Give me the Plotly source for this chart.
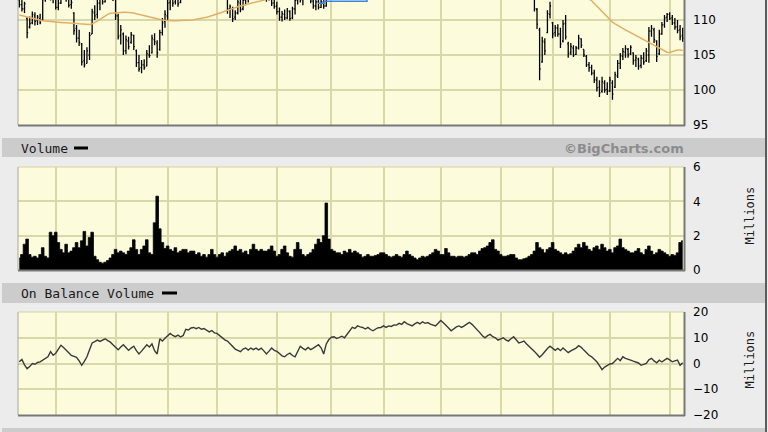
import plotly.graph_objects as go

# ---------------- data ----------------
open_ = [
    112.8,112.2,111.6,110.2,109.0,109.6,110.6,109.9,110.2,110.0,
    112.9,113.8,114.0,113.1,113.3,111.8,112.4,113.5,113.2,113.0,
    112.2,111.0,108.8,107.4,106.6,104.2,103.8,105.0,108.0,111.0,
    110.8,112.4,113.0,112.6,113.8,114.2,113.6,113.4,110.6,107.8,
    108.0,105.6,107.0,106.8,107.8,105.6,103.9,103.2,103.6,103.4,
    105.0,105.3,107.2,106.7,105.8,108.2,109.8,110.6,112.5,113.2,
    112.6,113.3,112.5,113.5,114.3,114.9,115.5,115.0,115.8,116.5,
    116.2,117.0,116.8,116.1,115.6,116.0,115.2,114.6,114.9,113.9,
    114.0,111.6,111.6,110.4,111.0,112.4,111.6,112.8,113.2,113.8,
    114.5,115.0,115.6,115.0,114.3,113.8,113.0,113.4,112.4,112.0,
    111.2,110.4,110.8,110.3,111.2,110.3,111.6,112.8,113.4,112.9,
    113.2,113.9,113.4,112.7,112.0,112.6,111.8,112.6,112.0,113.3,
    113.9,114.5,115.1,115.6,116.0,115.5,116.1,116.7,116.4,116.9,
    117.5,117.2,117.7,118.1,117.6,118.0,118.6,118.3,117.8,118.4,
    119.0,118.7,119.2,119.6,119.0,118.5,118.9,119.5,119.8,119.3,
    118.7,118.2,118.6,119.1,118.8,119.2,119.7,119.4,118.9,119.3,
    119.8,120.1,119.7,119.2,118.6,118.0,117.5,117.9,117.1,116.6,
    117.0,116.4,115.9,116.3,116.8,116.2,115.4,115.8,115.3,115.7,
    116.2,115.9,115.2,115.6,116.0,115.5,114.9,115.4,115.9,115.6,
    116.0,116.4,116.1,115.5,115.8,115.2,114.6,114.1,113.2,111.5,
    108.6,104.0,106.8,108.2,110.8,109.6,108.2,108.8,108.0,107.0,
    109.5,106.6,105.4,106.0,105.1,106.0,107.3,105.8,104.8,103.6,
    103.2,102.4,101.4,100.4,99.8,101.0,100.1,99.9,101.0,100.4,
    102.0,103.8,104.8,105.4,105.8,105.2,105.3,104.3,104.4,103.5,
    104.5,104.2,105.0,108.4,108.6,107.0,105.2,108.0,109.3,110.4,
    110.8,110.3,109.6,109.0,108.6,107.8,
]
high = [
    113.6,112.9,112.6,110.4,110.5,111.2,111.1,110.7,110.9,113.4,
    114.2,114.5,114.6,113.9,113.6,112.9,113.8,114.2,113.8,113.5,
    113.0,111.1,109.3,108.6,106.7,105.7,106.1,108.3,111.6,112.1,
    112.9,113.5,113.8,114.0,114.6,114.8,114.0,113.6,110.9,109.3,
    108.2,107.8,107.6,108.3,107.9,105.8,105.0,104.3,104.4,105.7,
    106.4,107.9,108.1,107.1,108.6,110.3,111.4,113.0,113.8,114.0,
    113.6,114.2,113.8,114.6,115.2,115.8,116.2,116.0,116.9,117.4,
    117.2,117.9,117.5,116.8,116.4,116.6,115.9,115.4,115.3,114.6,
    114.3,112.2,111.9,111.4,112.9,113.2,113.0,113.6,114.0,114.8,
    115.4,115.9,116.2,115.6,115.0,114.2,113.9,113.6,113.0,112.6,
    111.8,111.3,111.5,111.7,111.4,111.9,113.2,113.8,114.0,113.5,
    114.2,114.5,113.9,113.2,113.0,113.4,112.9,113.1,113.5,114.2,
    114.8,115.3,115.9,116.4,116.5,116.3,117.0,117.3,117.1,117.8,
    118.2,117.9,118.5,118.6,118.3,118.9,119.2,118.8,118.6,119.3,
    119.6,119.4,120.0,120.1,119.7,119.2,119.8,120.2,120.4,119.9,
    119.3,118.9,119.4,119.7,119.5,120.1,120.4,120.0,119.6,120.2,
    120.5,120.8,120.3,119.8,119.2,118.7,118.3,118.4,117.8,117.4,
    117.6,117.0,116.7,117.1,117.3,116.8,116.2,116.5,116.0,116.6,
    116.9,116.4,115.9,116.4,116.7,116.1,115.7,116.2,116.6,116.3,
    116.8,117.1,116.7,116.3,116.5,115.8,115.3,114.8,113.6,111.7,
    108.9,107.6,107.4,111.4,112.6,109.7,109.3,109.4,108.9,110.0,
    110.7,106.9,106.7,106.4,106.3,107.9,107.4,105.8,105.0,104.0,
    103.6,102.9,101.9,101.4,101.9,101.4,101.1,101.9,101.4,102.6,
    104.3,105.3,106.0,106.4,106.0,106.4,105.4,105.0,104.6,105.0,
    105.4,106.0,109.0,109.3,108.9,107.1,108.6,109.7,110.7,111.0,
    111.1,110.7,110.3,110.0,109.3,108.9,
]
low = [
    111.8,111.2,111.0,107.4,108.8,109.4,109.2,109.3,109.4,109.9,
    112.6,113.2,112.8,112.4,111.5,111.4,112.3,112.9,112.6,111.8,
    111.6,107.9,106.8,106.3,103.5,103.2,103.8,104.3,108.0,110.0,
    110.2,111.4,112.2,112.5,113.0,113.4,112.7,110.0,107.2,106.5,
    105.0,105.1,105.8,106.6,105.7,103.3,102.6,102.4,102.9,103.4,
    104.6,105.2,106.4,104.6,105.6,107.8,108.9,110.0,111.4,111.9,
    112.2,111.9,112.4,113.2,113.9,114.4,114.8,114.6,115.4,115.9,
    115.8,116.4,115.9,115.2,114.8,114.9,114.2,113.8,113.6,113.2,
    110.9,110.3,109.7,110.0,110.8,111.1,111.4,112.1,112.5,113.5,
    114.1,114.6,114.8,114.0,113.4,112.6,112.8,112.0,111.6,110.8,
    109.9,109.8,110.0,110.1,109.9,110.1,110.8,112.2,112.5,112.1,
    112.9,113.1,112.4,111.6,111.4,111.5,111.7,111.6,111.9,113.0,
    113.5,114.0,114.6,115.1,115.2,115.0,115.8,116.0,115.9,116.5,
    116.9,116.7,117.2,117.3,117.0,117.6,117.9,117.4,117.3,118.0,
    118.3,118.1,118.8,118.7,118.2,117.8,118.5,118.9,119.0,118.4,
    117.9,117.5,118.2,118.4,118.1,118.9,119.1,118.6,118.3,118.9,
    119.2,119.4,118.9,118.4,117.7,117.2,116.9,116.8,116.3,116.0,
    116.2,115.6,115.3,115.8,115.9,115.1,114.8,115.0,114.6,115.2,
    115.6,114.9,114.5,115.1,115.3,114.6,114.3,114.9,115.2,114.9,
    115.5,115.8,115.2,114.9,115.0,114.2,113.8,113.2,111.2,108.7,
    101.4,103.9,105.0,108.1,110.2,107.4,107.6,107.6,106.0,106.8,
    107.2,104.6,105.0,104.7,105.0,105.8,106.0,104.7,103.3,102.6,
    102.1,101.0,99.8,99.0,99.6,99.6,99.3,99.7,98.6,100.3,
    101.7,103.0,104.3,104.6,104.6,105.0,103.6,103.3,102.9,103.1,
    103.6,104.0,103.9,107.6,106.7,104.0,105.0,107.9,108.9,109.7,
    110.0,109.3,108.6,108.1,107.1,106.9,
]
close = [
    112.2,111.6,112.3,108.2,109.5,110.8,109.8,110.4,109.6,112.9,
    113.8,113.9,113.1,113.5,111.8,112.4,113.5,113.2,113.4,112.1,
    112.5,108.5,107.4,106.8,104.0,103.6,105.6,107.8,111.2,110.6,
    112.4,113.0,112.6,113.8,114.2,113.6,113.7,110.6,107.6,108.6,
    105.6,107.2,106.2,107.9,106.2,103.9,103.0,103.6,103.2,105.2,
    104.9,107.4,106.9,105.3,108.2,109.6,110.8,112.4,113.2,112.4,
    113.3,112.3,113.5,114.3,114.9,115.5,115.0,115.8,116.5,116.2,
    117.0,116.8,116.1,115.6,116.0,115.2,114.6,114.9,113.9,114.2,
    111.6,111.9,110.2,111.0,112.6,111.5,112.8,113.2,113.8,114.5,
    115.0,115.6,115.0,114.3,113.8,113.0,113.6,112.4,111.9,111.2,
    110.4,110.9,110.3,111.3,110.2,111.6,112.8,113.4,112.9,113.2,
    113.9,113.4,112.7,112.0,112.6,111.8,112.6,112.0,113.3,113.9,
    114.5,115.1,115.6,116.0,115.5,116.1,116.7,116.4,116.9,117.5,
    117.2,117.7,118.1,117.6,118.0,118.6,118.3,117.8,118.4,119.0,
    118.7,119.2,119.6,119.0,118.5,118.9,119.5,119.8,119.3,118.7,
    118.2,118.6,119.1,118.8,119.2,119.7,119.4,118.9,119.3,119.8,
    120.1,119.7,119.2,118.6,118.0,117.5,117.9,117.1,116.6,117.0,
    116.4,115.9,116.3,116.8,116.2,115.4,115.8,115.3,115.7,116.2,
    115.9,115.2,115.6,116.0,115.5,114.9,115.4,115.9,115.6,116.0,
    116.4,116.1,115.5,115.8,115.2,114.6,114.1,113.6,111.6,109.4,
    103.0,107.0,105.6,110.9,112.0,108.0,108.9,108.0,106.6,109.4,
    107.6,105.2,106.2,105.0,106.0,107.4,106.4,105.0,103.6,103.2,
    102.4,101.5,100.3,99.6,101.2,100.0,99.8,101.4,99.4,102.2,
    103.8,104.9,105.5,105.9,105.0,106.1,104.2,104.6,103.4,104.6,
    104.0,105.6,108.4,108.8,107.2,104.8,108.0,109.3,110.3,110.8,
    110.2,109.6,109.0,108.5,107.6,107.4,
]
moving_avg = [
    110.7,110.6,110.5,110.4,110.3,110.2,110.1,110.0,109.95,109.9,
    109.85,109.8,109.75,109.7,109.65,109.6,109.6,109.6,109.6,109.6,
    109.6,109.55,109.5,109.45,109.4,109.35,109.3,109.35,109.45,109.6,
    109.85,110.1,110.35,110.6,110.8,110.95,111.0,111.05,111.1,111.1,
    111.1,111.1,111.1,111.05,111.0,110.9,110.8,110.7,110.6,110.5,
    110.4,110.3,110.2,110.1,110.05,110.0,109.95,109.9,109.9,109.9,
    109.9,109.9,109.9,109.95,109.95,110.0,110.0,110.05,110.1,110.15,
    110.2,110.3,110.4,110.5,110.6,110.7,110.8,110.95,111.1,111.25,
    111.4,111.55,111.7,111.8,111.9,112.0,112.1,112.2,112.3,112.4,
    112.5,112.6,112.7,112.8,112.85,112.9,113.0,113.1,113.2,113.3,
    113.4,113.5,113.6,113.7,113.8,113.9,114.0,114.1,114.2,114.3,
    114.4,114.5,114.6,114.7,114.8,114.9,115.0,115.1,115.2,115.3,
    115.4,115.5,115.6,115.7,115.8,115.9,116.0,116.1,116.2,116.3,
    116.4,116.5,116.6,116.7,116.8,116.9,117.0,117.1,117.2,117.3,
    117.4,117.5,117.6,117.7,117.8,117.9,118.0,118.05,118.1,118.15,
    118.2,118.25,118.3,118.35,118.4,118.45,118.5,118.5,118.5,118.5,
    118.5,118.5,118.5,118.45,118.4,118.35,118.3,118.25,118.2,118.15,
    118.1,118.05,118.0,117.95,117.9,117.85,117.8,117.75,117.7,117.6,
    117.5,117.4,117.3,117.2,117.1,117.0,116.9,116.8,116.7,116.6,
    116.5,116.4,116.3,116.2,116.1,116.0,115.9,115.8,115.7,115.6,
    115.5,115.4,115.3,115.2,115.05,114.9,114.75,114.6,114.45,114.3,
    114.15,114.0,113.85,113.7,113.55,113.4,113.3,113.2,113.1,113.0,
    112.75,112.4,112.0,111.6,111.2,110.8,110.4,110.0,109.7,109.45,
    109.2,109.0,108.8,108.6,108.4,108.2,107.95,107.75,107.55,107.35,
    107.15,106.95,106.75,106.6,106.4,106.15,105.95,105.75,105.55,105.4,
    105.35,105.5,105.6,105.7,105.7,105.65,
]
volume_m = [
    0.7,0.9,1.5,1.8,0.9,0.75,0.8,0.7,0.9,1.3,
    0.8,0.7,2.2,2.0,2.2,1.6,1.2,1.0,1.5,1.0,
    1.1,1.3,1.6,1.3,1.7,2.25,1.4,1.9,2.2,0.8,
    0.6,0.45,0.4,0.45,0.55,0.7,0.9,1.2,1.0,1.1,
    1.0,0.9,1.1,1.3,1.76,1.2,0.9,1.2,1.4,1.76,
    1.0,0.9,2.75,4.3,2.4,1.6,1.25,1.4,1.2,1.1,
    1.3,1.0,1.1,1.2,1.2,1.0,1.1,1.1,0.9,1.0,
    0.8,0.9,0.75,0.9,1.2,0.9,0.75,0.9,1.0,0.8,
    1.0,1.1,1.2,1.4,1.1,1.2,1.0,1.1,0.9,1.2,
    1.5,1.2,1.1,1.2,1.1,1.1,1.2,1.4,1.1,0.8,
    0.9,1.2,1.4,1.0,0.8,0.75,1.2,1.6,1.2,0.9,
    0.8,0.9,1.0,1.2,1.5,1.8,1.6,2.0,3.9,1.8,
    1.2,1.1,1.0,1.0,0.9,1.1,1.0,1.2,1.0,1.1,
    1.0,0.9,0.75,0.8,0.9,0.8,0.8,0.85,0.9,1.0,
    1.0,0.9,0.8,0.75,0.8,0.9,0.8,0.75,0.9,1.1,
    0.9,0.8,0.7,0.6,0.7,0.8,0.75,0.8,0.9,1.0,
    1.2,1.1,0.9,0.9,1.25,1.0,0.8,0.8,0.75,0.8,
    0.8,0.75,0.8,0.9,1.0,1.0,0.9,1.1,1.25,1.3,
    1.4,1.6,1.76,1.2,1.1,0.9,0.8,0.8,0.85,0.9,
    0.9,0.7,0.6,0.6,0.65,0.7,0.8,0.9,1.1,1.6,
    1.3,1.2,1.0,1.2,1.3,1.6,1.2,1.1,1.0,0.9,
    1.0,0.9,0.95,1.1,1.3,1.5,1.3,1.6,1.4,1.2,
    1.1,1.3,1.4,1.2,1.5,1.3,1.1,1.2,1.0,1.3,
    1.4,1.8,1.3,1.2,1.1,1.0,1.0,1.1,1.25,1.0,
    0.9,1.2,1.4,1.1,0.9,1.0,1.2,1.1,1.0,0.9,
    0.8,0.9,0.85,1.0,1.6,1.7,
]
obv_m = [
    0.65,1.6,-0.5,-2.0,-1.2,0.0,-0.3,0.4,0.65,1.3,
    1.8,2.6,4.6,3.2,4.0,5.8,7.1,6.2,5.3,4.2,
    3.1,2.6,2.4,1.0,-0.7,0.8,2.6,5.3,8.0,8.5,
    9.1,8.6,9.2,9.6,8.9,8.3,7.3,6.2,5.3,6.4,
    7.3,6.2,5.1,6.0,6.7,5.0,3.7,4.8,5.9,7.3,
    6.4,7.6,5.0,3.7,9.6,8.7,9.8,10.8,11.7,10.9,
    10.4,11.0,10.3,10.9,13.3,13.0,13.8,14.0,13.5,14.0,
    13.3,13.6,12.9,12.3,12.8,11.9,11.7,10.9,9.8,9.2,
    8.7,7.6,6.7,5.6,5.1,4.6,5.6,6.0,5.2,6.0,
    5.4,6.0,5.3,6.0,4.9,3.7,4.8,6.0,5.1,4.7,
    3.9,3.0,2.6,3.5,4.0,3.1,2.6,4.8,6.7,5.9,
    5.3,6.2,5.4,6.0,6.8,7.3,6.1,3.7,7.6,9.3,
    10.2,10.4,9.7,10.0,10.6,10.0,11.3,12.6,14.0,13.6,
    14.6,14.2,14.0,13.4,14.0,13.2,12.7,13.4,13.9,14.0,
    14.6,14.0,14.6,14.4,15.0,14.9,15.6,15.2,16.2,15.5,
    14.9,14.6,15.4,16.0,15.4,16.2,15.6,15.9,15.3,14.8,
    14.6,15.6,16.7,15.8,14.6,13.8,12.7,13.5,14.2,14.6,
    14.0,14.6,15.3,16.0,15.2,14.2,13.3,12.0,10.8,10.0,
    10.8,11.3,10.4,10.0,9.1,9.6,10.0,9.2,8.7,9.6,
    10.4,9.2,8.0,8.3,8.7,7.6,6.7,5.9,4.7,3.6,
    2.4,3.4,4.7,5.8,6.7,6.0,5.1,5.9,5.0,6.0,
    5.2,4.2,4.9,5.3,6.0,6.9,6.3,5.2,4.0,3.2,
    2.6,1.6,0.65,-0.8,-2.4,-1.4,-0.7,-0.2,0.0,1.2,
    2.0,1.1,2.6,2.0,1.5,1.3,0.9,0.65,0.2,-0.7,
    -0.2,0.0,1.4,2.0,1.0,0.3,1.3,0.6,1.3,2.0,
    1.4,0.65,1.0,1.3,-0.7,0.3,
]
# trading-day index of the first session of each month (vertical grid)
month_starts = [14, 37, 57, 76, 99, 120, 140, 162, 185, 205, 227, 250]
month_labels = ["Dec", "Jan", "Feb", "Mar", "Apr", "May", "Jun",
                "Jul", "Aug", "Sep", "Oct", "Nov"]
price_ticks = [95, 100, 105, 110]
volume_ticks = [0, 2, 4, 6]
obv_ticks = [-20, -10, 0, 10, 20]

n = len(close)
for arr in (open_, high, low, moving_avg, volume_m, obv_m):
    assert len(arr) == n, len(arr)
days = list(range(n))

# ---------------- layout helpers ----------------
W, H = 768, 432
def fx(px):
    return px / W
def fy(py):
    return 1 - py / H

X0, X1 = 18, 684
PRICE_BOT = 125
VOL_TOP, VOL_BOT = 167, 270
OBV_TOP, OBV_BOT = 312, 415

GRID = "#d8d8a8"
PLOT_BG = "#fcfcdc"
PAGE_BG = "#ececec"
HEADER = "#cccccc"
TICKFONT = dict(family="DejaVu Sans", size=12, color="#000000")

fig = go.Figure()

fig.add_trace(go.Scatter(
    x=days, y=moving_avg, mode="lines",
    line=dict(color="#e2b064", width=1.5),
    xaxis="x", yaxis="y", hoverinfo="skip"))
fig.add_trace(go.Ohlc(
    x=days, open=open_, high=high, low=low, close=close,
    increasing=dict(line=dict(color="#000000", width=1.3)),
    decreasing=dict(line=dict(color="#000000", width=1.3)),
    tickwidth=0.4, xaxis="x", yaxis="y", hoverinfo="skip"))
fig.add_trace(go.Scatter(
    x=days, y=volume_m, mode="lines", line_shape="hvh",
    line=dict(color="#000000", width=0.8),
    fill="tozeroy", fillcolor="#000000",
    xaxis="x2", yaxis="y2", hoverinfo="skip"))
fig.add_trace(go.Scatter(
    x=days, y=obv_m, mode="lines",
    line=dict(color="#3a3a3a", width=1.4),
    xaxis="x3", yaxis="y3", hoverinfo="skip"))

xcommon = dict(
    domain=[fx(X0), fx(X1)], range=[-0.5, n - 0.5],
    tickmode="array", tickvals=month_starts, ticktext=month_labels,
    showticklabels=False, ticks="", showgrid=True, gridcolor=GRID,
    gridwidth=1.5, zeroline=False, showline=False, fixedrange=True,
    automargin=False)
ycommon = dict(
    side="right", showgrid=True, gridcolor=GRID, gridwidth=1.5,
    zeroline=False, showline=False, ticks="", tickfont=TICKFONT,
    ticklabelstandoff=8, fixedrange=True, automargin=False)

fig.update_layout(
    width=W, height=H, autosize=False,
    margin=dict(l=0, r=0, t=0, b=0, pad=0, autoexpand=False),
    paper_bgcolor=PAGE_BG, plot_bgcolor=PLOT_BG,
    showlegend=False, hovermode=False,
    xaxis=dict(**xcommon, anchor="y", rangeslider=dict(visible=False)),
    xaxis2=dict(**xcommon, anchor="y2"),
    xaxis3=dict(**xcommon, anchor="y3"),
    yaxis=dict(**ycommon, anchor="x", domain=[fy(PRICE_BOT), 1.0],
               range=[95, 95 + PRICE_BOT / 7.0],
               tickmode="array", tickvals=price_ticks),
    yaxis2=dict(**ycommon, anchor="x2", domain=[fy(VOL_BOT), fy(VOL_TOP)],
                range=[0, 6], tickmode="array", tickvals=volume_ticks),
    yaxis3=dict(**ycommon, anchor="x3", domain=[fy(OBV_BOT), fy(OBV_TOP)],
                range=[-20, 20], tickmode="array", tickvals=obv_ticks),
)

shapes = []
# header bands
for top, bot in ((138, 157), (283, 303), (428, 433)):
    shapes.append(dict(type="rect", xref="paper", yref="paper",
                       x0=fx(2), x1=fx(765), y0=fy(bot), y1=fy(top),
                       fillcolor=HEADER, line=dict(width=0), layer="below"))
# right page edge
shapes.append(dict(type="line", xref="paper", yref="paper",
                   x0=fx(766), x1=fx(766), y0=0, y1=1,
                   line=dict(color="#5c5c5c", width=2)))
# panel borders
for top, bot in ((-5, PRICE_BOT), (VOL_TOP, VOL_BOT), (OBV_TOP, OBV_BOT)):
    shapes.append(dict(type="line", xref="paper", yref="paper",
                       x0=fx(X0), x1=fx(X1), y0=fy(top), y1=fy(top),
                       line=dict(color="#d4d4a4", width=1)))
    shapes.append(dict(type="line", xref="paper", yref="paper",
                       x0=fx(X0), x1=fx(X0), y0=fy(bot), y1=fy(top),
                       line=dict(color="#a8a8a0", width=1)))
    shapes.append(dict(type="line", xref="paper", yref="paper",
                       x0=fx(X0), x1=fx(X1 + 1), y0=fy(bot + 0.5), y1=fy(bot + 0.5),
                       line=dict(color="#787878", width=2)))
    shapes.append(dict(type="line", xref="paper", yref="paper",
                       x0=fx(X1 + 0.5), x1=fx(X1 + 0.5), y0=fy(bot + 1), y1=fy(top),
                       line=dict(color="#787878", width=2)))
# legend swatches in headers
for x0, x1, yc in ((74, 88, 148), (162, 177, 293)):
    shapes.append(dict(type="rect", xref="paper", yref="paper",
                       x0=fx(x0), x1=fx(x1), y0=fy(yc + 1.5), y1=fy(yc - 1.5),
                       fillcolor="#000000", line=dict(width=0)))
# remnant of blue box at top of price panel
shapes.append(dict(type="path", xref="paper", yref="paper",
                   path="M {a},{b} L {c},{b} L {c},{d} L {e},{d} L {e},{f}".format(
                       a=fx(318), b=fy(3.2), c=fx(324), d=fy(1.3), e=fx(367), f=fy(-1)),
                   line=dict(color="#3d84e8", width=1.5)))
fig.update_layout(shapes=shapes)

MONO = dict(family="DejaVu Sans Mono", size=13, color="#1a1a1a")
ann = [
    dict(text="Volume", x=fx(19), y=fy(148), xanchor="left", yanchor="middle",
         font=MONO),
    dict(text="On Balance Volume", x=fx(19), y=fy(293), xanchor="left",
         yanchor="middle", font=MONO),
    dict(text="<b>©BigCharts.com</b>", x=fx(686), y=fy(148), xanchor="right",
         yanchor="middle", font=dict(family="DejaVu Sans", size=13, color="#8c8c8c")),
    dict(text="Millions", x=fx(749), y=fy((VOL_TOP + VOL_BOT) / 2 - 3), textangle=-90,
         xanchor="center", yanchor="middle",
         font=dict(family="DejaVu Sans Mono", size=12, color="#1a1a1a")),
    dict(text="Millions", x=fx(749), y=fy((OBV_TOP + OBV_BOT) / 2 - 4), textangle=-90,
         xanchor="center", yanchor="middle",
         font=dict(family="DejaVu Sans Mono", size=12, color="#1a1a1a")),
]
for a in ann:
    a.update(xref="paper", yref="paper", showarrow=False)
fig.update_layout(annotations=ann)

fig.write_html("out.html", config={"displayModeBar": False},
               post_script="document.body.style.margin='0';"
                           "document.body.style.overflow='hidden';")
